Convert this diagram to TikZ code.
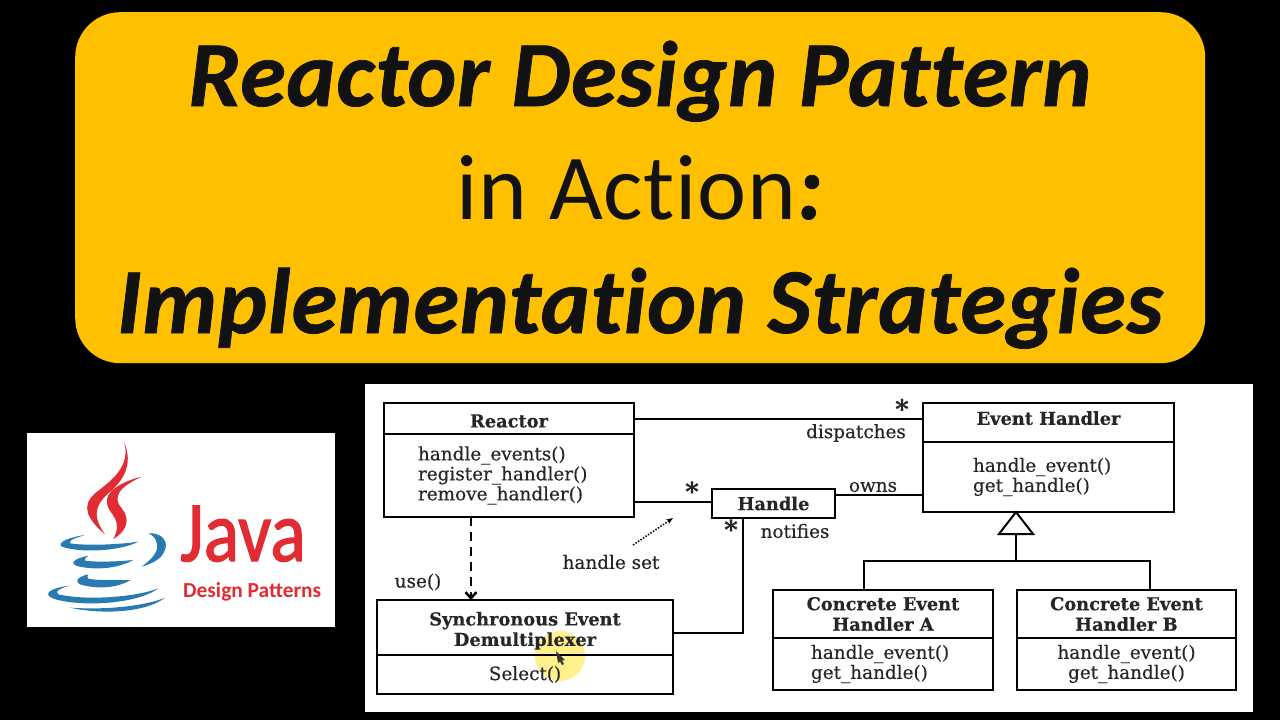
\documentclass[tikz,border=0pt]{standalone}
\usepackage{fontspec}
\setmainfont{Carlito}
\newfontfamily\titlefont[LetterSpace=0.8, Ligatures=NoCommon, BoldItalicFeatures={FakeBold=0.8}]{Carlito}
\newfontfamily\javafont[FakeBold=1.6]{Carlito}
\newfontfamily\umlfont[FakeBold=0.4]{DejaVu Serif}
\usetikzlibrary{positioning, calc, arrows.meta}
\definecolor{bannerfill}{RGB}{255,192,0}
\definecolor{javared}{RGB}{226,44,52}
\definecolor{javablue}{RGB}{42,122,178}
\newcommand{\headtop}[1]{\rule{0pt}{#1}}
\newcommand{\headbot}[1]{\rule[-#1]{0pt}{#1}}

\tikzset{
  headbox/.style={draw, line width=2pt, outer sep=0pt, inner sep=0pt, align=center, text=black!85, font=\umlfont\bfseries\fontsize{17.8}{20.5}\selectfont},
  bodybox/.style={draw, line width=2pt, outer sep=0pt, inner sep=0pt, text=black!85, font=\umlfont\fontsize{18.4}{20}\selectfont},
  link/.style={draw, line width=2pt},
  tag/.style={inner sep=0pt, text=black!85, font=\umlfont\fontsize{18.4}{20}\selectfont},
  startag/.style={inner sep=0pt, text=black!85, font=\umlfont\bfseries\fontsize{26}{26}\selectfont},
  titleline/.style={inner sep=0pt, anchor=base, text=black!93, font=\titlefont\fontsize{93}{100}\selectfont},
  panel/.style={fill=white, anchor=north west, inner sep=0pt},
}

\begin{document}
\begin{tikzpicture}[x=1pt, y=-1pt]
  \useasboundingbox (0,0) rectangle (1280,720);
  \fill[black] (0,0) rectangle (1280,720);

  % title
  \node[fill=bannerfill, rounded corners=45pt, minimum width=1130pt, minimum height=351pt, anchor=north west, inner sep=0pt] (banner) at (75,12) {};
  \node[titleline] (line1) at (640,106) {\bfseries\itshape Reactor Design Pattern};
  \node[titleline] (line2) at (640,219) {in Action\textbf{\textit{:}}};
  \node[titleline] (line3) at (640,333) {\bfseries\itshape Implementation Strategies};

  % logo
  \node[panel, minimum width=308pt, minimum height=194pt] (logo) at (27,433) {};
  \begin{scope}[shift={(20,425)}, x=.3333pt, y=-.3333pt]
    \fill[javared] (312,50) .. controls (335,125) and (270,170) .. (225,205) .. controls (180,245) and (205,285) .. (255,328) .. controls (225,285) and (215,250) .. (265,205) .. controls (325,155) and (335,105) .. (312,50) -- cycle;
    \fill[javared] (365,155) .. controls (305,170) and (250,200) .. (262,240) .. controls (270,270) and (310,285) .. (280,342) .. controls (325,315) and (330,280) .. (305,250) .. controls (275,215) and (300,185) .. (365,155) -- cycle;
    \fill[javablue] (195,330) .. controls (125,340) and (105,362) .. (135,368) .. controls (200,385) and (310,375) .. (355,350) .. controls (290,360) and (190,362) .. (150,355) .. controls (145,345) and (170,338) .. (195,330) -- cycle;
    \fill[javablue] (385,325) .. controls (430,322) and (450,355) .. (430,385) .. controls (420,405) and (390,418) .. (365,425) .. controls (400,400) and (418,375) .. (410,355) .. controls (408,340) and (400,332) .. (385,325) -- cycle;
    \fill[javablue] (205,392) .. controls (145,405) and (150,422) .. (190,427) .. controls (240,435) and (300,428) .. (340,405) .. controls (290,410) and (230,412) .. (195,407) .. controls (192,402) and (198,397) .. (205,392) -- cycle;
    \fill[javablue] (205,448) .. controls (160,458) and (165,478) .. (195,482) .. controls (240,492) and (295,488) .. (332,465) .. controls (290,465) and (240,468) .. (205,461) .. controls (200,458) and (202,452) .. (205,448) -- cycle;
    \fill[javablue] (150,482) .. controls (80,490) and (65,512) .. (110,524) .. controls (190,545) and (350,538) .. (415,490) .. controls (350,516) and (200,528) .. (115,508) .. controls (100,500) and (125,488) .. (150,482) -- cycle;
    \fill[javablue] (150,548) .. controls (250,570) and (380,562) .. (435,518) .. controls (380,542) and (260,556) .. (150,548) -- cycle;
  \end{scope}
  \node[inner sep=0pt, anchor=base west, text=javared, font=\javafont\fontsize{86}{86}\selectfont, xscale=.86] (javaword) at (180,561) {Java};
  \node[inner sep=0pt, anchor=base west, text=javared, font=\bfseries\fontsize{21.4}{21.4}\selectfont] (dpword) at (183,597) {Design Patterns};

  % diagram
  \node[panel, minimum width=888pt, minimum height=328pt] (sheet) at (365,384) {};
  \fill[yellow!85!orange, opacity=.45] (560,656) circle (25pt);

  \node[headbox, minimum width=250pt, minimum height=31pt, anchor=north west] (reactor) at (384,403) {\headtop{18pt}Reactor};
  \node[bodybox, below = 0pt of reactor, align=left, text width=182pt, inner xsep=34pt, minimum height=83pt] (reactorops) {handle\_events()\\register\_handler()\\remove\_handler()};

  \node[headbox, minimum width=251pt, minimum height=39pt, anchor=north west] (handler) at (923,403) {Event Handler\headbot{9pt}};
  \node[bodybox, below = 0pt of handler, align=left, text width=151pt, inner xsep=50pt, minimum height=70pt] (handlerops) {handle\_event()\\get\_handle()};

  \node[headbox, minimum width=123pt, minimum height=29pt, anchor=north west] (handle) at (712,489) {Handle};

  \node[headbox, minimum width=296pt, minimum height=55pt, anchor=north west] (demux) at (377,600) {\headtop{20pt}Synchronous Event\\Demultiplexer};
  \node[bodybox, minimum width=296pt, minimum height=39pt, below = 0pt of demux] (demuxops) {Select()};

  \node[headbox, minimum width=220pt, minimum height=48pt, anchor=north west] (concretea) at (773,590) {Concrete Event\\Handler A};
  \node[bodybox, below = 0pt of concretea, align=left, text width=144pt, inner xsep=38pt, minimum height=52pt] (concreteaops) {handle\_event()\\get\_handle()};

  \node[headbox, minimum width=219pt, minimum height=48pt, right = 24pt of concretea] (concreteb) {Concrete Event\\Handler B};
  \node[bodybox, minimum width=219pt, minimum height=52pt, below = 0pt of concreteb, align=center] (concretebops) {handle\_event()\\get\_handle()};

  % connectors
  \path[link] (reactor.east) -- (reactor.east -| handler.west);
  \path[link] ([yshift=2pt]handle.west) -- ([yshift=2pt]handle.west -| reactorops.east);
  \path[link] ([yshift=9pt]handle.east) -- ([yshift=9pt]handle.east -| handlerops.west);
  \coordinate (demuxout) at ($(demux.south east)+(0,-22)$);
  \coordinate (notifyup) at (743,518);
  \path[link] (demuxout) -| (notifyup);
  \coordinate (usex) at (471,0);
  \path[link, line width=2.5pt, dash pattern=on 9pt off 6pt, -{Straight Barb[length=6pt, width=11pt]}] (reactorops.south -| usex) -- (demux.north -| usex);
  \coordinate (hsetfrom) at (633,545);
  \coordinate (hsetto) at (673,518);
  \draw[line width=1.5pt, dash pattern=on 1.5pt off 1.5pt, -{Stealth[length=7pt]}] (hsetfrom) -- (hsetto);

  % inheritance
  \coordinate (apex) at (1016,512);
  \coordinate (baseleft) at (999,534);
  \coordinate (baseright) at (1033,534);
  \coordinate (basemid) at (1016,534);
  \coordinate (fork) at (1016,561);
  \coordinate (forka) at (864,0);
  \coordinate (forkb) at (1150,0);
  \draw[line width=2pt, fill=white] (apex) -- (baseleft) -- (baseright) -- cycle;
  \path[link] (basemid) -- (fork);
  \path[link] (concretea.north -| forka) |- (fork) -| (concreteb.north -| forkb);

  % labels
  \node[tag] (dispatches) at (856,433) {dispatches};
  \node[tag] (owns) at (873,487) {owns};
  \node[tag] (notifies) at (795,531) {notifies};
  \node[tag] (handleset) at (611,562) {handle set};
  \node[tag] (use) at (418,582) {use()};
  \node[startag] (star1) at (902,408.5) {*};
  \node[startag] (star2) at (692,491) {*};
  \node[startag] (star3) at (731,529) {*};

  % pointer
  \fill[black!80] (556,651) -- (565,660) -- (562,660.5) -- (564,664) -- (562,665) -- (560,661.5) -- (558,663) -- cycle;
\end{tikzpicture}
\end{document}
